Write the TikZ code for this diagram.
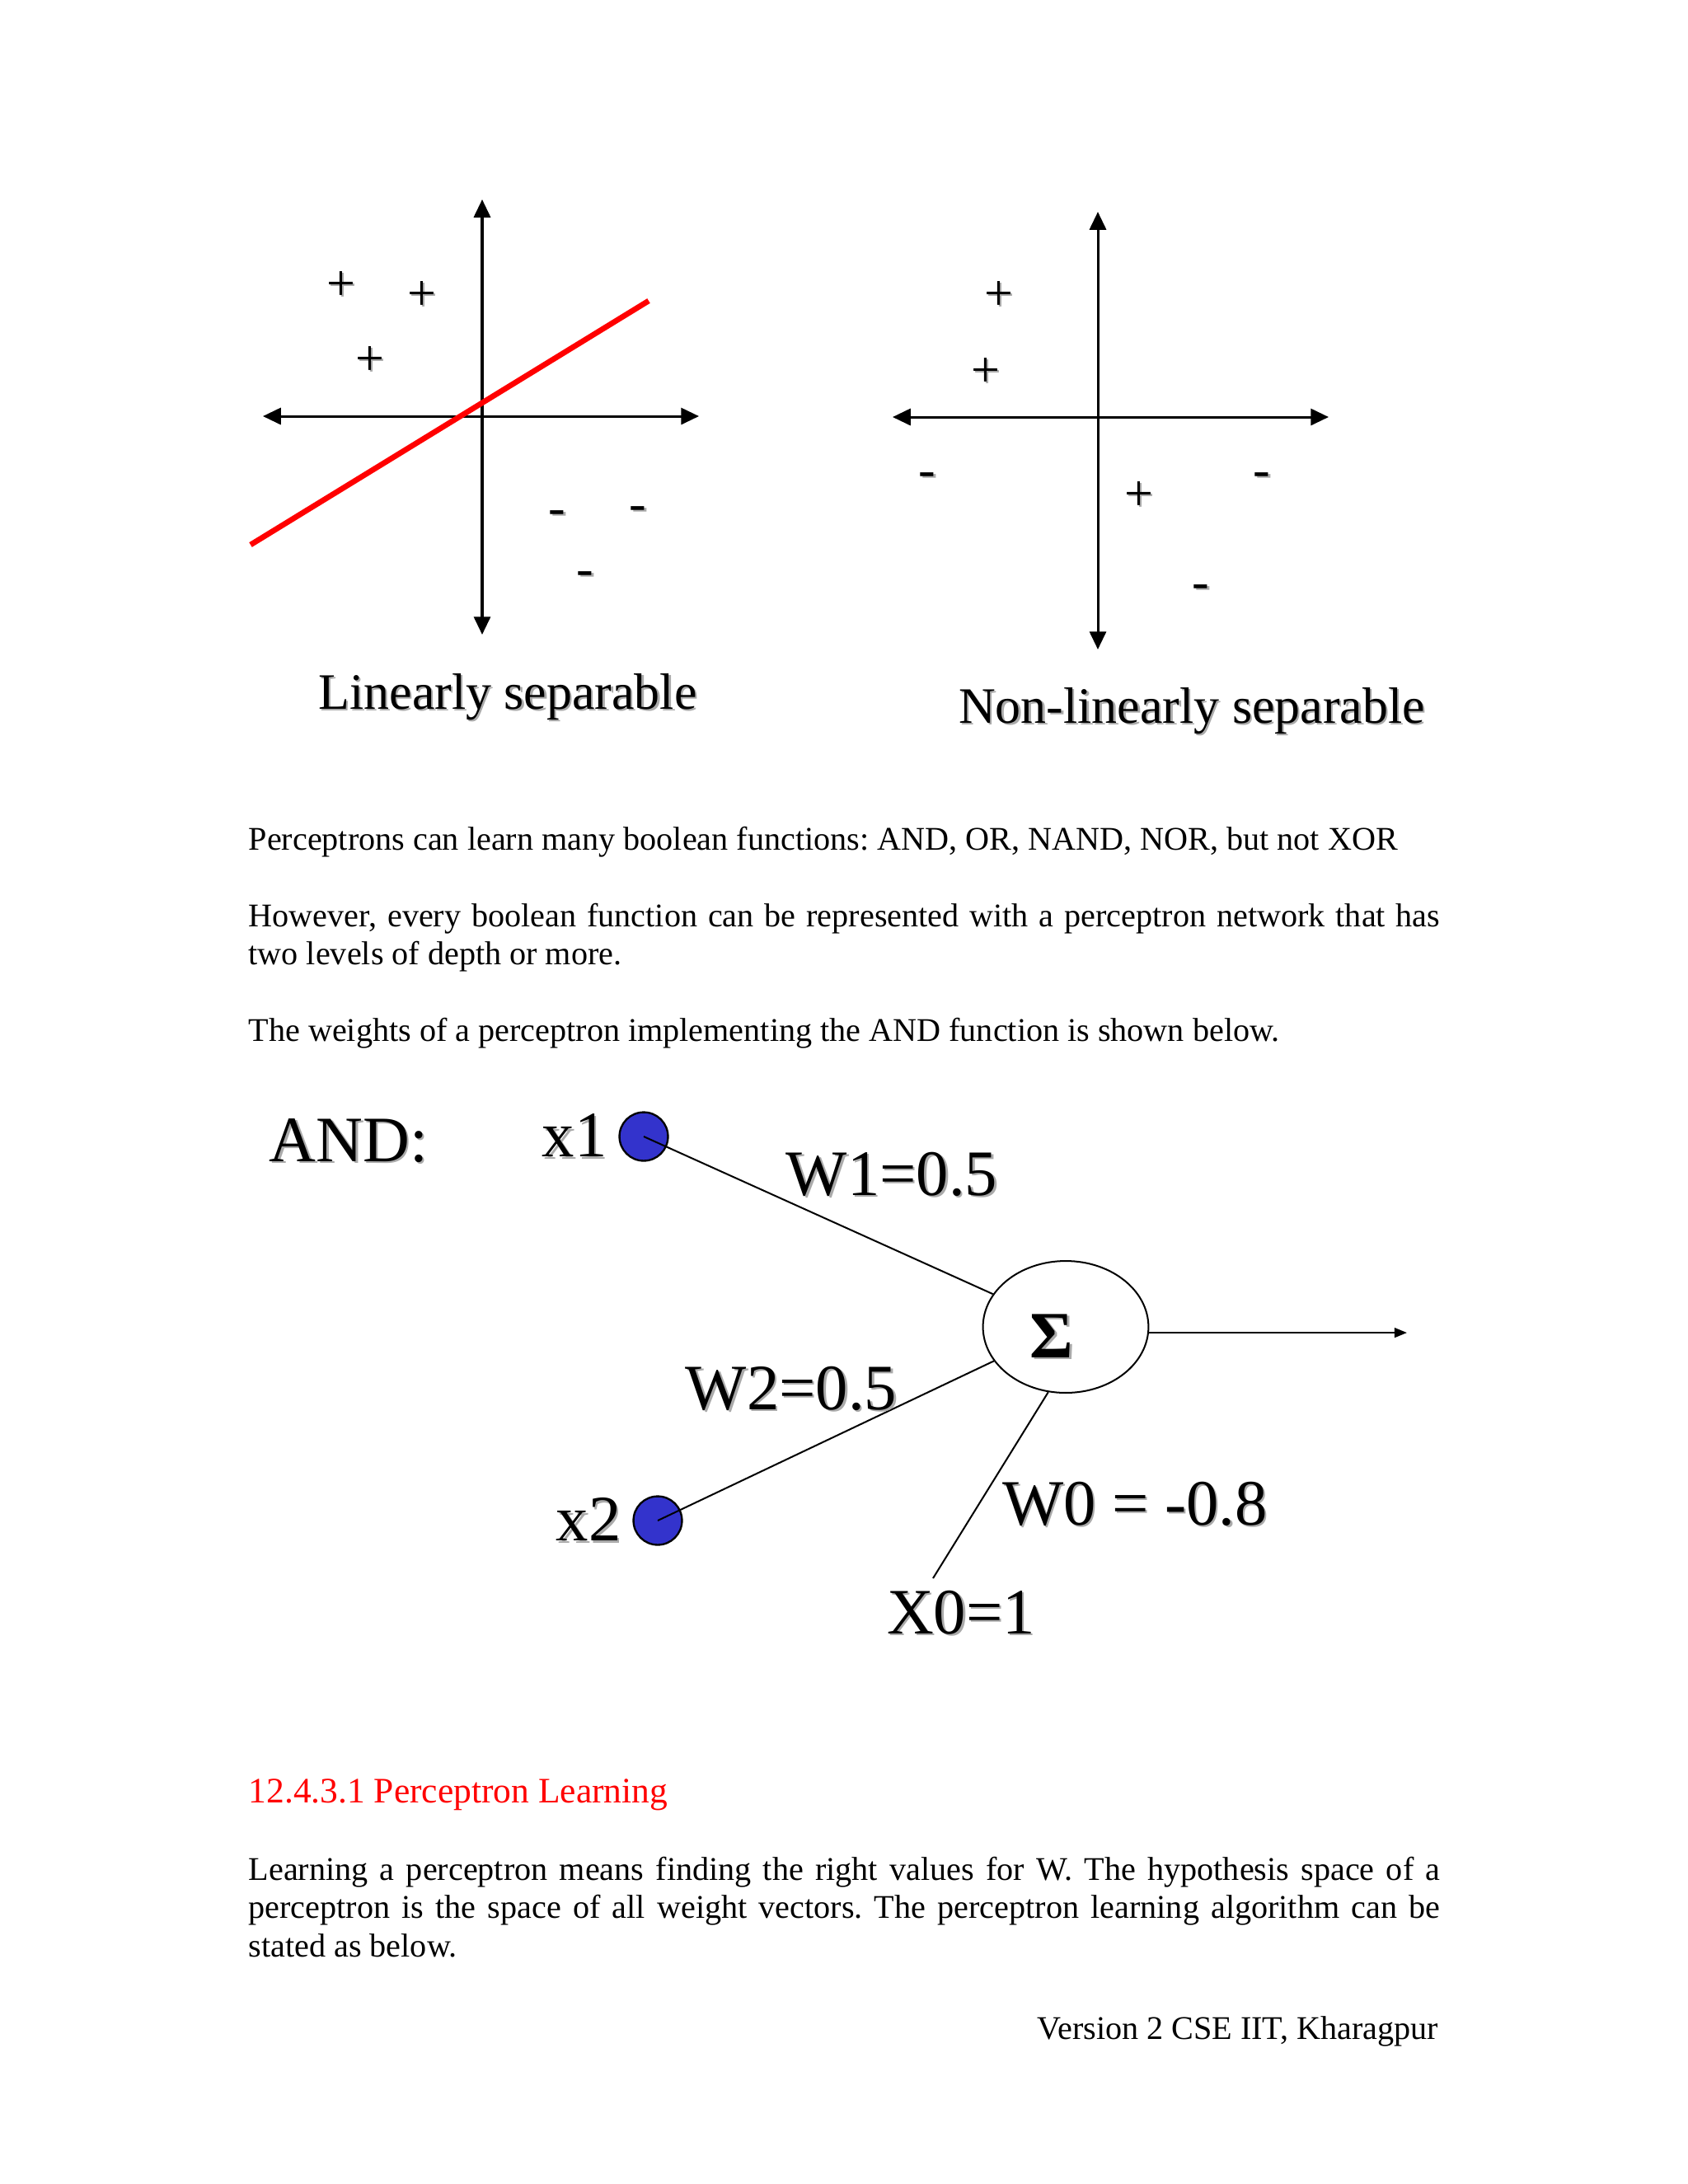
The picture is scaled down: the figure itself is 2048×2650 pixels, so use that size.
\documentclass[tikz,border=0pt]{standalone}
\usepackage{fontspec}
\setmainfont{Liberation Serif}
\usetikzlibrary{arrows.meta,positioning,shapes.geometric}
\definecolor{InputBlue}{HTML}{3333CC}
\definecolor{SepRed}{HTML}{FF0000}
\definecolor{ShadowGray}{HTML}{AAAAAA}
% text with the light drop shadow of the slide pictures
\newcommand{\shd}[1]{\makebox[0pt][l]{\kern0.7pt\raisebox{-0.7pt}{\textcolor{ShadowGray}{#1}}}#1}
\frenchspacing

\begin{document}
\begin{tikzpicture}[x=0.29883pt,y=-0.29883pt,
    axisline/.style={line width=0.9pt,{Triangle[length=6.5pt,width=6pt]}-{Triangle[length=6.5pt,width=6pt]}},
    sepline/.style={line width=2pt,SepRed},
    sample/.style={inner sep=0pt,font=\fontsize{18.5}{20}\selectfont},
    caption/.style={inner sep=0pt,anchor=base,font=\fontsize{18.5}{20}\selectfont},
    tag/.style={inner sep=0pt,font=\fontsize{23.5}{26}\selectfont},
    neuron/.style={draw,ellipse,line width=0.6pt,minimum width=60pt,minimum height=47.8pt,inner sep=0pt},
    inputdot/.style={draw,circle,fill=InputBlue,line width=0.7pt,minimum size=17.6pt,inner sep=0pt},
    wire/.style={line width=0.6pt},
    para/.style={inner sep=0pt,anchor=base west,text width=432pt,align=justify,font=\fontsize{12}{13.9}\selectfont}]
  \useasboundingbox[fill=white] (0,0) rectangle (2048,2650);

  % linearly separable
  \coordinate (oa) at (585,505);
  \draw[axisline] (319,505) -- (848,505);
  \draw[axisline] (585,242) -- (585,770);
  \draw[sepline] (304,661) -- (787,365);
  \foreach \x/\y [count=\i] in {414/348,512/360,449/439}
    \node[sample] (pa\i) at (\x,\y) {\shd{+}};
  \foreach \x/\y [count=\i] in {676/629,774/624,710/703}
    \node[sample] (ma\i) at (\x,\y) {\shd{-}};
  \node[caption] (capa) at (616,860) {\shd{Linearly separable}};

  % non-linearly separable
  \coordinate (ob) at (1332,506);
  \draw[axisline] (1083,506) -- (1612,506);
  \draw[axisline] (1332,257) -- (1332,788);
  \foreach \x/\y [count=\i] in {1212/360,1196/453,1382/603}
    \node[sample] (pb\i) at (\x,\y) {\shd{+}};
  \foreach \x/\y [count=\i] in {1125/583,1531/583,1457/719}
    \node[sample] (mb\i) at (\x,\y) {\shd{-}};
  \node[caption] (capb) at (1446,877) {\shd{Non-linearly separable}};

  % text
  \node[para] (t1) at (301,1031) {Perceptrons can learn many boolean functions: AND, OR, NAND, NOR, but not XOR};
  \node[para] (t2) at (301,1124) {However, every boolean function can be represented with a perceptron network that has\linebreak two levels of depth or more.};
  \node[para] (t3) at (301,1263) {The weights of a perceptron implementing the AND function is shown below.};

  % AND perceptron
  \node[tag,anchor=base] (andlbl) at (423,1409) {\shd{AND:}};
  \node[inputdot] (x1) at (781,1379) {};
  \node[inputdot] (x2) at (798,1845) {};
  \node[tag,left=4pt of x1] (x1lbl) {\shd{x1}};
  \node[tag,left=4pt of x2] (x2lbl) {\shd{x2}};
  \node[neuron] (sum) at (1293,1610) {};
  \node[tag,font=\fontsize{24}{26}\selectfont\bfseries] (sigma) at (1276,1622) {\shd{Σ}};
  \coordinate (x0) at (1132,1915);
  \coordinate (out) at (1707,1617);
  \draw[wire] (x1.center) -- (sum);
  \draw[wire] (x2.center) -- (sum);
  \draw[wire] (sum.-105) -- (x0);
  \draw[wire,-{Triangle[length=4.5pt,width=3.5pt]}] (sum.-4) -- (sum.-4 -| out);
  \node[tag,anchor=base] (w1) at (1082,1450) {\shd{W1=0.5}};
  \node[tag,anchor=base] (w2) at (960,1710) {\shd{W2=0.5}};
  \node[tag,anchor=base] (w0) at (1377,1850) {\shd{W0 = -0.8}};
  \node[tag,anchor=base] (x0lbl) at (1166,1982) {\shd{X0=1}};

  % next section
  \node[inner sep=0pt,anchor=base west,text=SepRed,font=\fontsize{13}{15}\selectfont] (sec) at (301,2187) {12.4.3.1 Perceptron Learning};
  \node[para] (t4) at (301,2281) {Learning a perceptron means finding the right values for W. The hypothesis space of a perceptron is the space of all weight vectors. The perceptron learning algorithm can be stated as below.};
  \node[inner sep=0pt,anchor=base east,font=\fontsize{12}{14}\selectfont] (foot) at (1746,2474) {Version 2 CSE IIT, Kharagpur};
\end{tikzpicture}
\end{document}
